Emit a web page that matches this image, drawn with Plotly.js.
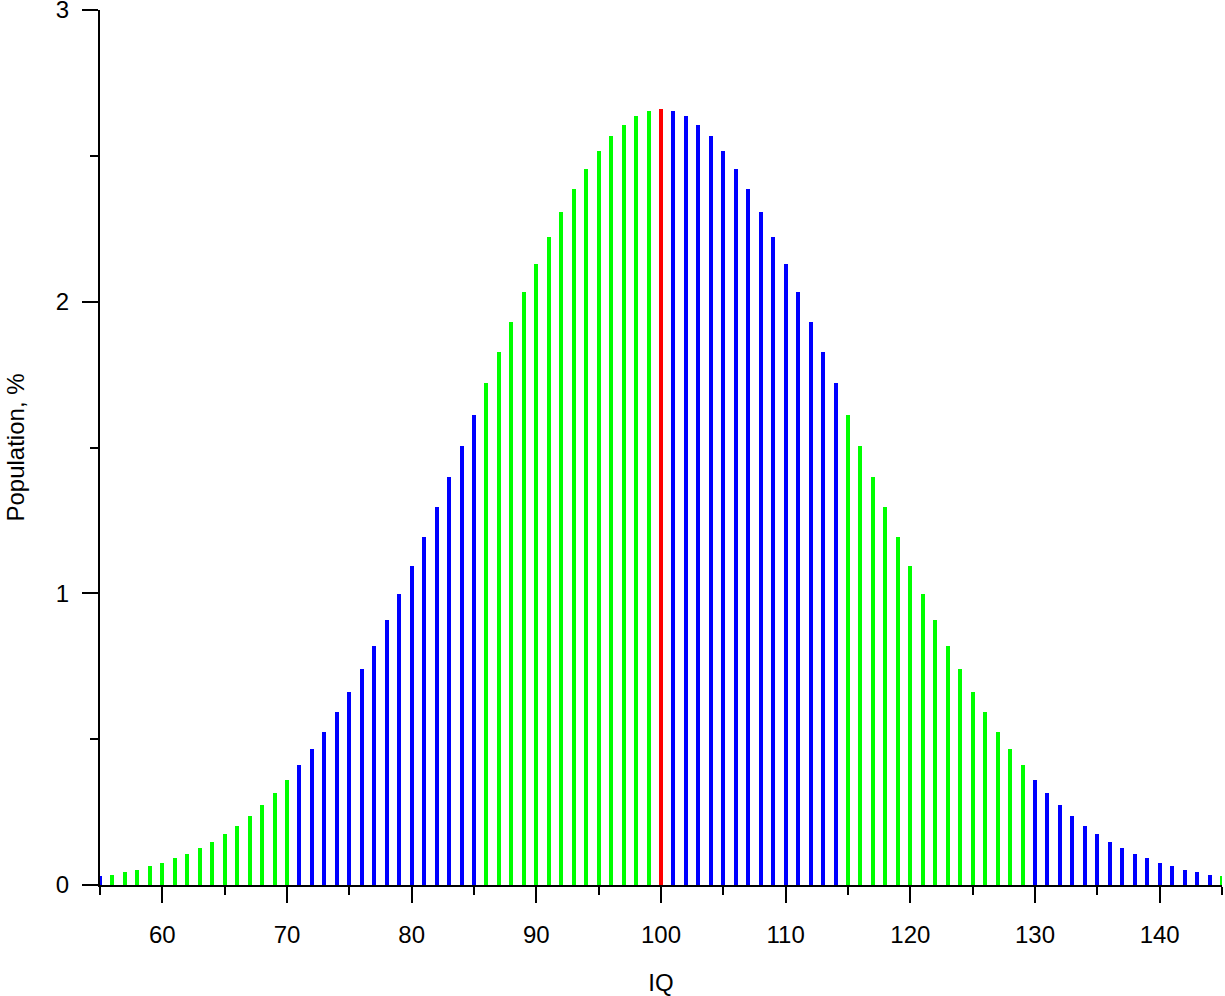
<!DOCTYPE html>
<html>
<head>
<meta charset="utf-8">
<script src="https://cdn.plot.ly/plotly-3.0.1.min.js"></script>
<style>
  html, body { margin: 0; padding: 0; background: #fff; }
  #chart { width: 1225px; height: 996px; }
</style>
</head>
<body>
<div id="chart"></div>
<script>
// IQ scores (x) and population share in % (y)
const iq = [
  55, 56, 57, 58, 59, 60, 61, 62, 63, 64, 65, 66, 67, 68, 69, 70,
  71, 72, 73, 74, 75, 76, 77, 78, 79, 80, 81, 82, 83, 84, 85,
  86, 87, 88, 89, 90, 91, 92, 93, 94, 95, 96, 97, 98, 99, 100,
  101, 102, 103, 104, 105, 106, 107, 108, 109, 110, 111, 112, 113, 114,
  115, 116, 117, 118, 119, 120, 121, 122, 123, 124, 125, 126, 127, 128, 129,
  130, 131, 132, 133, 134, 135, 136, 137, 138, 139, 140, 141, 142, 143, 144, 145
];
const population = [
  0.030, 0.036, 0.044, 0.053, 0.064, 0.076, 0.091, 0.107, 0.127, 0.149, 0.175, 0.204, 0.237, 0.273, 0.314, 0.360,
  0.410, 0.466, 0.526, 0.592, 0.663, 0.740, 0.821, 0.907, 0.998, 1.093, 1.192, 1.295, 1.399, 1.506, 1.613,
  1.721, 1.827, 1.931, 2.033, 2.130, 2.222, 2.307, 2.385, 2.455, 2.516, 2.567, 2.607, 2.636, 2.654, 2.660,
  2.654, 2.636, 2.607, 2.567, 2.516, 2.455, 2.385, 2.307, 2.222, 2.130, 2.033, 1.931, 1.827, 1.721,
  1.613, 1.506, 1.399, 1.295, 1.192, 1.093, 0.998, 0.907, 0.821, 0.740, 0.663, 0.592, 0.526, 0.466, 0.410,
  0.360, 0.314, 0.273, 0.237, 0.204, 0.175, 0.149, 0.127, 0.107, 0.091, 0.076, 0.064, 0.053, 0.044, 0.036, 0.030
];
// band of each bar: "B" blue, "G" green, "R" red
const band = [
  "B", "G", "G", "G", "G", "G", "G", "G", "G", "G", "G", "G", "G", "G", "G", "G",
  "B", "B", "B", "B", "B", "B", "B", "B", "B", "B", "B", "B", "B", "B", "B",
  "G", "G", "G", "G", "G", "G", "G", "G", "G", "G", "G", "G", "G", "G", "R",
  "B", "B", "B", "B", "B", "B", "B", "B", "B", "B", "B", "B", "B", "B",
  "G", "G", "G", "G", "G", "G", "G", "G", "G", "G", "G", "G", "G", "G", "G",
  "B", "B", "B", "B", "B", "B", "B", "B", "B", "B", "B", "B", "B", "B", "B", "G"
];
const xTickVals = [60, 70, 80, 90, 100, 110, 120, 130, 140];
const yTickVals = [0, 1, 2, 3];
const xLabel = "IQ";
const yLabel = "Population, %";

const bandColor = { B: "#0000ff", G: "#00ff00", R: "#ff0000" };

const trace = {
  type: "bar",
  x: iq,
  y: population,
  width: 0.32,
  marker: { color: band.map(b => bandColor[b]), line: { width: 0 } },
  hoverinfo: "x+y"
};

const font = { family: "Liberation Sans, Arial, sans-serif", size: 24, color: "#000" };

const layout = {
  width: 1225,
  height: 996,
  margin: { l: 100, r: 3, t: 10, b: 111, pad: 0 },
  paper_bgcolor: "#fff",
  plot_bgcolor: "#fff",
  showlegend: false,
  font: font,
  bargap: 0,
  xaxis: {
    range: [55, 145],
    tickmode: "array",
    tickvals: xTickVals,
    ticktext: xTickVals.map(String),
    ticks: "outside",
    ticklen: 16,
    tickwidth: 2,
    tickcolor: "#000",
    showline: true,
    linewidth: 2,
    linecolor: "#000",
    showgrid: false,
    zeroline: false,
    tickfont: font,
    ticklabelstandoff: 11,
    ticklabeloverflow: "allow",
    minor: { tickmode: "linear", tick0: 55, dtick: 5, ticks: "outside", ticklen: 8, tickwidth: 2, tickcolor: "#000", showgrid: false },
    title: { text: xLabel, font: font, standoff: 29 }
  },
  yaxis: {
    range: [0, 3],
    tickmode: "array",
    tickvals: yTickVals,
    ticktext: yTickVals.map(String),
    ticks: "outside",
    ticklen: 16,
    tickwidth: 2,
    tickcolor: "#000",
    showline: true,
    linewidth: 2,
    linecolor: "#000",
    showgrid: false,
    zeroline: false,
    tickfont: font,
    ticklabelstandoff: 8,
    ticklabeloverflow: "allow",
    minor: { tickmode: "linear", tick0: 0, dtick: 0.5, ticks: "outside", ticklen: 8, tickwidth: 2, tickcolor: "#000", showgrid: false },
    title: { text: yLabel, font: font, standoff: 24 }
  }
};

Plotly.newPlot("chart", [trace], layout, { displayModeBar: false, staticPlot: true });
</script>
</body>
</html>
